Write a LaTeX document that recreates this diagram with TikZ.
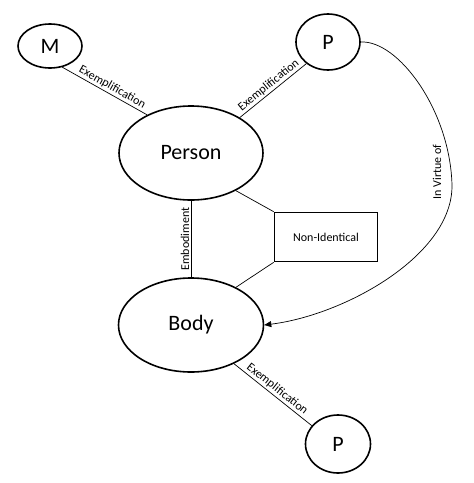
\documentclass[tikz,border=0pt]{standalone}
\usepackage{fontspec}
\setmainfont{Carlito}
\usetikzlibrary{shapes.geometric,arrows.meta}
\begin{document}
\begin{tikzpicture}[x=1pt,y=-1pt,
  ent/.style={ellipse,draw,line width=1.6pt,inner sep=0pt,font=\fontsize{22}{24}\selectfont},
  conn/.style={draw,line width=0.7pt},
  lbl/.style={font=\fontsize{12}{13}\selectfont,inner sep=1.5pt}]
\useasboundingbox (0,0) rectangle (474,483);
\node[ent,minimum width=64pt,minimum height=44pt] (M) at (50,46) {M};
\node[ent,minimum width=64pt,minimum height=56pt] (P1) at (328,42) {P};
\node[ent,minimum width=144pt,minimum height=94pt] (Person) at (191,153) {Person};
\node[ent,minimum width=145pt,minimum height=94pt] (Body) at (191,325) {Body};
\node[ent,minimum width=65pt,minimum height=58pt] (P2) at (338,444) {P};
\node[draw,line width=1.6pt,minimum width=103pt,minimum height=49pt,inner sep=0pt,font=\fontsize{12}{13}\selectfont] (NI) at (326,237) {Non-Identical};
\draw[conn] (M.-60) -- node[lbl,pos=0.55,above,sloped] {Exemplification} (Person.139);
\draw[conn] (Person.36) -- node[lbl,pos=0.5,above,sloped] {Exemplification} (P1.-135);
\draw[conn] (Person.south) -- node[lbl,pos=0.5,anchor=south,rotate=90] {Embodiment} (Body.north);
\draw[conn] (Person.-40) -- (NI.north west);
\draw[conn] (NI.south west) -- (Body.40);
\draw[conn] (Body.-42) -- node[lbl,pos=0.5,above,sloped] {Exemplification} (P2.145);
\draw[conn,-{Triangle[length=7pt,width=6pt]}] (P1.east) .. controls (398,40) and (450,110) .. (452,185) .. controls (453,255) and (345,315) .. (Body.east);
\node[lbl,rotate=90] (IV) at (437,172) {In Virtue of};
\end{tikzpicture}
\end{document}
